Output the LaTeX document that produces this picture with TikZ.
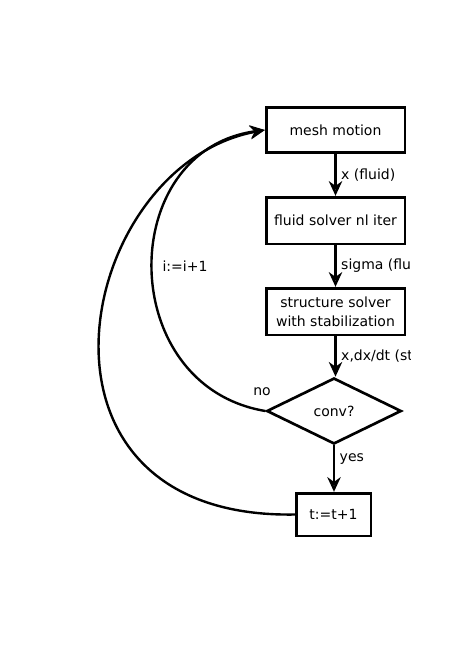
\documentclass[tikz,border=0pt]{standalone}
\usepackage{fontspec}
\setmainfont{DejaVu Sans}
\usetikzlibrary{shapes.geometric,arrows.meta}
\tikzset{
  blk/.style={draw,line width=2pt,minimum width=104pt,minimum height=34pt,inner sep=2pt,align=center},
  dec/.style={draw,diamond,aspect=2,line width=2pt,minimum width=101pt,minimum height=49.5pt,inner sep=0pt},
  flow/.style={line width=1.9pt,-{Stealth[open,length=11pt,width=10pt]}},
  back/.style={line width=1.8pt,-{Stealth[open,length=11pt,width=10pt]}},
}
\begin{document}
\begin{tikzpicture}[x=0.75pt,y=-0.75pt,font=\fontsize{10.5}{14}\selectfont]
	\useasboundingbox (0,0) rectangle (474,668);
	\begin{scope}
		\clip (0,0) rectangle (410,668);
		\node[blk](mesh) at (335.5,130){mesh motion};
		\node[blk,minimum height=35pt](fluid) at (335.5,220.5){fluid solver nl iter};
		\node[blk,minimum height=35pt](struct) at (335.5,311.5){structure solver\\with stabilization};
		\node[dec](conv) at (334,411){conv?};
		\node[blk,minimum width=56pt,minimum height=32pt](tstep) at (333.5,514.5){t:=t+1};
		\draw[flow](mesh.south)--(mesh.south|-fluid.north)node[midway,right]{x (fluid)};
		\draw[flow](fluid.south)--(fluid.south|-struct.north)node[midway,right]{sigma (fluid)};
		\draw[flow](struct.south)--(struct.south|-conv.north)node[midway,right]{x,dx/dt (structure)};
		\draw[flow](conv.south)--(conv.south|-tstep.north)node[pos=0.3,right]{yes};
		\draw[back](conv.west)..controls +(-150,-25) and +(-150,20)..(mesh.west);
		\draw[back](tstep.west)..controls +(-290,5) and +(-190,35)..(mesh.west);
		\node(no) at (262,392){no};
		\node(inc) at (185,266){i:=i+1};
	\end{scope}
\end{tikzpicture}
\end{document}
